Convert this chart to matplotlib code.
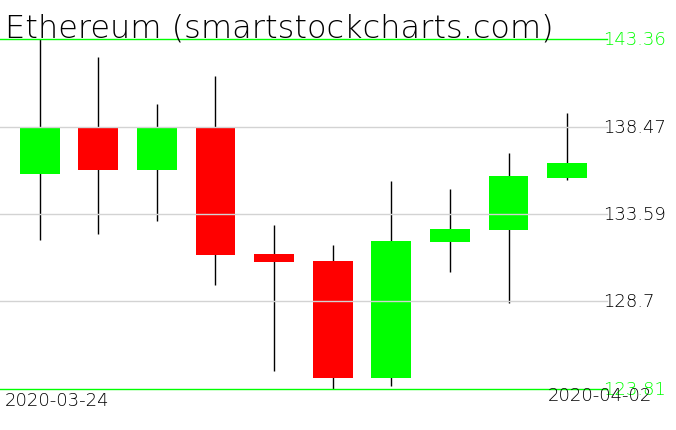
import matplotlib
matplotlib.use("Agg")
import matplotlib.pyplot as plt
import numpy as np

dates = ["2020-03-24", "2020-03-25", "2020-03-26", "2020-03-27", "2020-03-28",
         "2020-03-29", "2020-03-30", "2020-03-31", "2020-04-01", "2020-04-02"]
opens = [135.84, 138.43, 136.06, 138.43, 131.35, 130.96, 124.44, 132.04, 132.71, 135.61]
highs = [143.36, 142.34, 139.73, 141.29, 132.97, 131.85, 135.43, 134.98, 136.99, 139.23]
lows = [132.15, 132.47, 133.21, 129.63, 124.83, 123.81, 123.99, 130.36, 128.59, 135.50]
closes = [138.43, 136.06, 138.43, 131.31, 130.92, 124.44, 132.09, 132.75, 135.71, 136.43]
levels = [143.36, 138.47, 133.59, 128.7, 123.81]
level_labels = ["143.36", "138.47", "133.59", "128.7", "123.81"]

W, H = 676, 431
fig = plt.figure(figsize=(W / 100, H / 100), dpi=100)
fig.patch.set_facecolor("white")
ax = fig.add_axes([0, 1 - 390 / H, 607 / W, 350 / H])
ax.set_xlim(-0.676, 9.68)
ax.set_ylim(levels[-1], levels[0])
ax.axis("off")

x = np.arange(len(dates))
o = np.array(opens)
c = np.array(closes)
up = c >= o
colors = np.where(up, "#00ff00", "#ff0000")

ax.vlines(x, lows, highs, color="black", linewidth=1, zorder=1)
ax.bar(x, np.abs(c - o), bottom=np.minimum(o, c), width=0.68,
       color=colors, edgecolor="none", zorder=2)

for i, (lv, lab) in enumerate(zip(levels, level_labels)):
    edge = i == 0 or i == len(levels) - 1
    col = "#00ff00" if edge else "#d3d3d3"
    ax.axhline(lv, color=col, linewidth=1, zorder=3, clip_on=False)
    ypx = 40 + (levels[0] - lv) / (levels[0] - levels[-1]) * 350
    fig.text(603 / W, 1 - ypx / H, lab, ha="left", va="center",
             fontsize=13, color="#00ff00" if edge else "black",
             family="DejaVu Sans", fontweight="ultralight")

fig.text(5 / W, 1 - 38 / H, "Ethereum (smartstockcharts.com)", ha="left",
         va="baseline", fontsize=23, family="DejaVu Sans",
         fontweight="ultralight", color="black")

fig.text(5 / W, 1 - 401 / H, dates[0], ha="left", va="center", fontsize=13,
         family="DejaVu Sans", fontweight="ultralight")
fig.text(652 / W, 1 - 396 / H, dates[-1], ha="right", va="center", fontsize=13,
         family="DejaVu Sans", fontweight="ultralight")

fig.savefig("out.png", dpi=100)
